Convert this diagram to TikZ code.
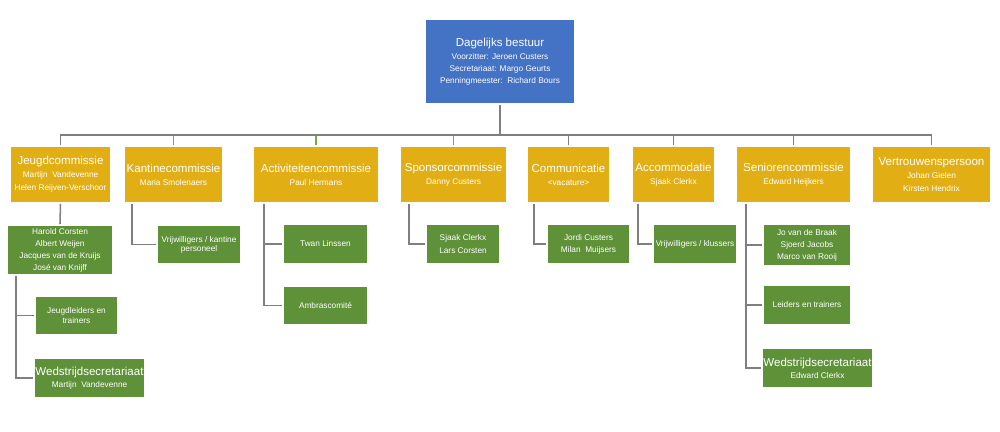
\documentclass[tikz,border=0pt]{standalone}
\usepackage{fontspec}
\setmainfont{Liberation Sans}
\usepackage{xcolor}
\usepackage{tikz}
\usetikzlibrary{shadows}
\usetikzlibrary{positioning}

\definecolor{dbblauw}{RGB}{68,114,196}
\definecolor{comgeel}{RGB}{225,175,20}
\definecolor{teamgroen}{RGB}{94,145,56}
\definecolor{lijngrijs}{RGB}{127,127,127}
\definecolor{stubgroen}{RGB}{112,173,71}

\newcommand{\kop}[1]{{\fontsize{8.2}{9}\selectfont #1}}

\begin{document}
\begin{tikzpicture}[
      box/.style={draw=white, line width=1.3pt, text=white, align=center, inner sep=1pt,
        font=\fontsize{5.9}{8.6}\selectfont,
        drop shadow={shadow xshift=0.6pt, shadow yshift=-0.7pt, opacity=0.4}},
      blue_box/.style={box, fill=dbblauw},
      yellow_box/.style={box, fill=comgeel, minimum height=1.425cm, font=\fontsize{5.9}{9.2}\selectfont},
      green_box/.style={box, fill=teamgroen},
      conn/.style={lijngrijs, line width=1.1pt},
      green_conn/.style={stubgroen, line width=1.3pt}
  ]

  % 1. Achtergrond
  \fill[white] (0, 0) rectangle (25, -10.8);
  \useasboundingbox (0, 0) rectangle (25, -10.8);

  % 2. Dagelijks bestuur
  \node[blue_box, minimum width=3.75cm, minimum height=2.125cm] (db) at (12.5, -1.54)
    {\kop{Dagelijks bestuur}\\[1pt]Voorzitter: Jeroen Custers\\Secretariaat: Margo Geurts\\Penningmeester:\ \ Richard Bours};

  % 3. Commissies
  \node[yellow_box, minimum width=2.525cm] (jeugd) at (1.5125, -4.3625)
    {\kop{Jeugdcommissie}\\Martijn\ \ Vandevenne\\Helen Reijven-Verschoor};
  \node[yellow_box, minimum width=2.475cm] (kantine) at (4.3375, -4.3625)
    {\kop{Kantinecommissie}\\Maria Smolenaers};
  \node[yellow_box, minimum width=3.15cm] (activ) at (7.9, -4.3625)
    {\kop{Activiteitencommissie}\\Paul Hermans};
  \node[yellow_box, minimum width=2.675cm] (sponsor) at (11.3375, -4.3625)
    {\kop{Sponsorcommissie}\\Danny Custers};
  \node[yellow_box, minimum width=2.075cm] (comm) at (14.2125, -4.3625)
    {\kop{Communicatie}\\<vacature>};
  \node[yellow_box, minimum width=2.075cm] (accom) at (16.8375, -4.3625)
    {\kop{Accommodatie}\\Sjaak Clerkx};
  \node[yellow_box, minimum width=2.875cm] (senior) at (19.8375, -4.3625)
    {\kop{Seniorencommissie}\\Edward Heijkers};
  \node[yellow_box, minimum width=2.975cm] (vertr) at (23.2875, -4.3625)
    {\kop{Vertrouwenspersoon}\\Johan Gielen\\Kirsten Hendrix};

  % 4. Teams en leden
  \node[green_box, minimum width=2.65cm, minimum height=1.25cm] (jleden) at (1.5, -6.25)
    {Harold Corsten\\Albert Weijen\\Jacques van de Kruijs\\José van Knijff};
  \node[green_box, minimum width=2.075cm, minimum height=0.975cm] (jleiders) at (1.9125, -7.8875)
    {Jeugdleiders en\\[-2pt]trainers};
  \node[green_box, minimum width=2.725cm, minimum height=1cm] (jwedstrijd) at (2.2375, -9.45)
    {\kop{Wedstrijdsecretariaat}\\Martijn\ \ Vandevenne};
  \node[green_box, minimum width=2.1cm, minimum height=0.975cm] (kvrijw) at (4.975, -6.1125)
    {Vrijwilligers / kantine\\[-2pt]personeel};
  \node[green_box, minimum width=2.125cm, minimum height=1cm] (twan) at (8.1375, -6.1)
    {Twan Linssen};
  \node[green_box, minimum width=2.125cm, minimum height=0.975cm] (ambras) at (8.1375, -7.6375)
    {Ambrascomité};
  \node[green_box, minimum width=1.85cm, minimum height=1cm] (spleden) at (11.575, -6.1)
    {Sjaak Clerkx\\Lars Corsten};
  \node[green_box, minimum width=2.075cm, minimum height=1cm] (coleden) at (14.7125, -6.1)
    {Jordi Custers\\Milan\ \ Muijsers};
  \node[green_box, minimum width=2.1cm, minimum height=1cm] (acvrijw) at (17.375, -6.1)
    {Vrijwilligers / klussers};
  \node[green_box, minimum width=2.2cm, minimum height=1.05cm] (seleden) at (20.175, -6.125)
    {Jo van de Braak\\Sjoerd Jacobs\\Marco van Rooij};
  \node[green_box, minimum width=2.2cm, minimum height=1cm] (seleiders) at (20.175, -7.625)
    {Leiders en trainers};
  \node[green_box, minimum width=2.725cm, minimum height=1cm] (sewedstrijd) at (20.4375, -9.2)
    {\kop{Wedstrijdsecretariaat}\\Edward Clerkx};

  % 5. Verbindingen bestuur - commissies
  \coordinate (bus) at (12.5, -3.375);
  \draw[conn] (db.south) -- (bus);
  \foreach \c in {jeugd, kantine, activ, sponsor, comm, accom, senior, vertr}
    \draw[conn] (bus) -| (\c.north);
  \foreach \c in {kantine, activ, sponsor}
    \draw[green_conn] ([yshift=-0.5pt]\c.north |- bus) -- (\c.north);

  % 6. Verbindingen commissies - teams
  \draw[conn] (jeugd.south) -- (jleden.north);
  \coordinate (jstam) at ([xshift=0.25cm]jleden.south west);
  \draw[conn] (jstam) |- (jleiders.west);
  \draw[conn] (jstam) |- (jwedstrijd.west);

  \draw[conn] ([xshift=0.225cm]kantine.south west) |- (kvrijw.west);

  \coordinate (astam) at ([xshift=0.3cm]activ.south west);
  \draw[conn] (astam) |- (twan.west);
  \draw[conn] (astam) |- (ambras.west);

  \draw[conn] ([xshift=0.25cm]sponsor.south west) |- (spleden.west);
  \draw[conn] ([xshift=0.2cm]comm.south west) |- (coleden.west);
  \draw[conn] ([xshift=0.175cm]accom.south west) |- (acvrijw.west);

  \coordinate (sstam) at ([xshift=0.275cm]senior.south west);
  \draw[conn] (sstam) |- (seleden.west);
  \draw[conn] (sstam) |- (seleiders.west);
  \draw[conn] (sstam) |- (sewedstrijd.west);

\end{tikzpicture}
\end{document}
